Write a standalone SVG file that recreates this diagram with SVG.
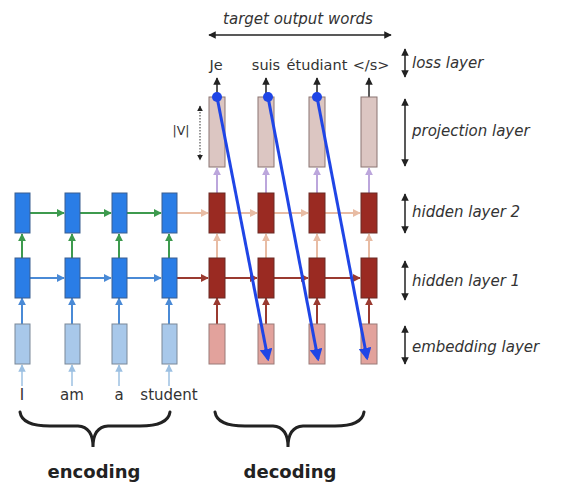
<svg xmlns="http://www.w3.org/2000/svg" width="566" height="492" viewBox="0 0 566 492">
<defs>
<style>
.t{font-family:"DejaVu Sans",sans-serif;fill:#333}
.it{font-family:"DejaVu Sans",sans-serif;font-style:italic;fill:#333;font-size:15px}
.b{font-family:"DejaVu Sans",sans-serif;font-weight:bold;fill:#222;font-size:18px}
.eh{fill:#2a7de6;stroke:#3a5f90;stroke-width:1}
.ee{fill:#a8c8ea;stroke:#7a8898;stroke-width:1}
.dh{fill:#9a2a22;stroke:#6a2a24;stroke-width:1}
.de{fill:#e2a29c;stroke:#9a7a78;stroke-width:1}
.pr{fill:#dcc6c2;stroke:#8a7472;stroke-width:1}
.green{stroke:#3d9a4e;stroke-width:2;fill:none;marker-end:url(#mg)}
.blue{stroke:#4a8ad6;stroke-width:2;fill:none;marker-end:url(#mb)}
.lblue{stroke:#9cc0e2;stroke-width:1.5;fill:none;marker-end:url(#mlb)}
.peach{stroke:#e8bca4;stroke-width:2;fill:none;marker-end:url(#mp)}
.dred{stroke:#9a3a30;stroke-width:2;fill:none;marker-end:url(#mr)}
.lav{stroke:#bca6dc;stroke-width:2;fill:none;marker-end:url(#ml)}
.blk{stroke:#222;stroke-width:1.5;fill:none;marker-end:url(#mk)}
.dbl{stroke:#222;stroke-width:1.5;fill:none;marker-start:url(#mks);marker-end:url(#mk)}
.att{stroke:#1f45e6;stroke-width:3;fill:none;marker-end:url(#mat)}
.brace{stroke:#222;stroke-width:3;fill:none;stroke-linecap:round}
</style>
<marker id="mg" viewBox="0 0 10 10" refX="9" refY="5" markerWidth="4" markerHeight="4" orient="auto"><path d="M0,0L10,5L0,10z" fill="#3d9a4e"/></marker>
<marker id="mb" viewBox="0 0 10 10" refX="9" refY="5" markerWidth="4" markerHeight="4" orient="auto"><path d="M0,0L10,5L0,10z" fill="#4a8ad6"/></marker>
<marker id="mlb" viewBox="0 0 10 10" refX="9" refY="5" markerWidth="5" markerHeight="5" orient="auto"><path d="M0,0L10,5L0,10z" fill="#9cc0e2"/></marker>
<marker id="mp" viewBox="0 0 10 10" refX="9" refY="5" markerWidth="4" markerHeight="4" orient="auto"><path d="M0,0L10,5L0,10z" fill="#e8bca4"/></marker>
<marker id="mr" viewBox="0 0 10 10" refX="9" refY="5" markerWidth="4" markerHeight="4" orient="auto"><path d="M0,0L10,5L0,10z" fill="#9a3a30"/></marker>
<marker id="ml" viewBox="0 0 10 10" refX="9" refY="5" markerWidth="4" markerHeight="4" orient="auto"><path d="M0,0L10,5L0,10z" fill="#bca6dc"/></marker>
<marker id="mk" viewBox="0 0 10 10" refX="9" refY="5" markerWidth="5" markerHeight="5" orient="auto"><path d="M0,0L10,5L0,10z" fill="#222"/></marker>
<marker id="mks" viewBox="0 0 10 10" refX="1" refY="5" markerWidth="5" markerHeight="5" orient="auto"><path d="M10,0L0,5L10,10z" fill="#222"/></marker>
<marker id="mat" viewBox="0 0 10 10" refX="8" refY="5" markerWidth="4.2" markerHeight="4.2" orient="auto"><path d="M0,0L10,5L0,10z" fill="#1f45e6"/></marker>
</defs>
<rect width="566" height="492" fill="#fff"/>

<g id="connectors">
<line class="lblue" x1="22" y1="386" x2="22" y2="365"/>
<line class="lblue" x1="72" y1="386" x2="72" y2="365"/>
<line class="lblue" x1="119" y1="386" x2="119" y2="365"/>
<line class="lblue" x1="169" y1="386" x2="169" y2="365"/>
<line class="blue" x1="22" y1="324" x2="22" y2="298"/>
<line class="blue" x1="72" y1="324" x2="72" y2="298"/>
<line class="blue" x1="119" y1="324" x2="119" y2="298"/>
<line class="blue" x1="169" y1="324" x2="169" y2="298"/>
<line class="green" x1="22" y1="258" x2="22" y2="234"/>
<line class="green" x1="72" y1="258" x2="72" y2="234"/>
<line class="green" x1="119" y1="258" x2="119" y2="234"/>
<line class="green" x1="169" y1="258" x2="169" y2="234"/>
<line class="green" x1="30" y1="213" x2="64" y2="213"/>
<line class="green" x1="80" y1="213" x2="111" y2="213"/>
<line class="green" x1="127" y1="213" x2="161" y2="213"/>
<line class="blue" x1="30" y1="278" x2="64" y2="278"/>
<line class="blue" x1="80" y1="278" x2="111" y2="278"/>
<line class="blue" x1="127" y1="278" x2="161" y2="278"/>
<line class="peach" x1="177" y1="213" x2="208" y2="213"/>
<line class="peach" x1="225" y1="213" x2="257" y2="213"/>
<line class="peach" x1="274" y1="213" x2="308" y2="213"/>
<line class="peach" x1="325" y1="213" x2="360" y2="213"/>
<line class="dred" x1="177" y1="278" x2="208" y2="278"/>
<line class="dred" x1="225" y1="278" x2="257" y2="278"/>
<line class="dred" x1="274" y1="278" x2="308" y2="278"/>
<line class="dred" x1="325" y1="278" x2="360" y2="278"/>
<line class="dred" x1="217" y1="324" x2="217" y2="298"/>
<line class="dred" x1="266" y1="324" x2="266" y2="298"/>
<line class="dred" x1="317" y1="324" x2="317" y2="298"/>
<line class="dred" x1="369" y1="324" x2="369" y2="298"/>
<line class="peach" x1="217" y1="258" x2="217" y2="234"/>
<line class="peach" x1="266" y1="258" x2="266" y2="234"/>
<line class="peach" x1="317" y1="258" x2="317" y2="234"/>
<line class="peach" x1="369" y1="258" x2="369" y2="234"/>
<line class="lav" x1="217" y1="193" x2="217" y2="168"/>
<line class="lav" x1="266" y1="193" x2="266" y2="168"/>
<line class="lav" x1="317" y1="193" x2="317" y2="168"/>
<line class="lav" x1="369" y1="193" x2="369" y2="168"/>
<line class="blk" x1="217" y1="97" x2="217" y2="78"/>
<line class="blk" x1="266" y1="97" x2="266" y2="78"/>
<line class="blk" x1="317" y1="97" x2="317" y2="78"/>
<line class="blk" x1="369" y1="97" x2="369" y2="78"/>
</g>

<g id="encoder">
<g id="enc-emb">
<rect class="ee" x="15" y="324" width="15" height="40"/>
<rect class="ee" x="65" y="324" width="15" height="40"/>
<rect class="ee" x="112" y="324" width="15" height="40"/>
<rect class="ee" x="162" y="324" width="15" height="40"/>
</g>
<g id="enc-h1">
<rect class="eh" x="15" y="258" width="15" height="40"/>
<rect class="eh" x="65" y="258" width="15" height="40"/>
<rect class="eh" x="112" y="258" width="15" height="40"/>
<rect class="eh" x="162" y="258" width="15" height="40"/>
</g>
<g id="enc-h2">
<rect class="eh" x="15" y="193" width="15" height="40"/>
<rect class="eh" x="65" y="193" width="15" height="40"/>
<rect class="eh" x="112" y="193" width="15" height="40"/>
<rect class="eh" x="162" y="193" width="15" height="40"/>
</g>
</g>

<g id="decoder">
<g id="dec-emb">
<rect class="de" x="209" y="324" width="16" height="40"/>
<rect class="de" x="258" y="324" width="16" height="40"/>
<rect class="de" x="309" y="324" width="16" height="40"/>
<rect class="de" x="361" y="324" width="16" height="40"/>
</g>
<g id="dec-h1">
<rect class="dh" x="209" y="258" width="16" height="40"/>
<rect class="dh" x="258" y="258" width="16" height="40"/>
<rect class="dh" x="309" y="258" width="16" height="40"/>
<rect class="dh" x="361" y="258" width="16" height="40"/>
</g>
<g id="dec-h2">
<rect class="dh" x="209" y="193" width="16" height="40"/>
<rect class="dh" x="258" y="193" width="16" height="40"/>
<rect class="dh" x="309" y="193" width="16" height="40"/>
<rect class="dh" x="361" y="193" width="16" height="40"/>
</g>
<g id="dec-proj">
<rect class="pr" x="209" y="97" width="16" height="70"/>
<rect class="pr" x="258" y="97" width="16" height="70"/>
<rect class="pr" x="309" y="97" width="16" height="70"/>
<rect class="pr" x="361" y="97" width="16" height="70"/>
</g>
</g>

<g id="attention">
<line class="att" x1="217" y1="97" x2="268" y2="359"/>
<line class="att" x1="268" y1="97" x2="318" y2="359"/>
<line class="att" x1="317" y1="97" x2="367" y2="358"/>
<circle cx="217" cy="97" r="5" fill="#1f45e6"/>
<circle cx="268" cy="97" r="5" fill="#1f45e6"/>
<circle cx="317" cy="97" r="5" fill="#1f45e6"/>
</g>

<g id="vocab">
<line x1="200" y1="106" x2="200" y2="160" stroke="#555" stroke-width="1.2" stroke-dasharray="1.5,1.5" marker-start="url(#mks)" marker-end="url(#mk)"/>
<text class="t" x="181" y="135" font-size="12.5" text-anchor="middle" fill="#555">|V|</text>
</g>

<g id="target-label">
<line class="dbl" x1="209" y1="35" x2="391" y2="35"/>
<text class="it" x="298" y="24" text-anchor="middle" font-size="15.5">target output words</text>
</g>

<g id="target-words" class="t" font-size="14.5" text-anchor="middle">
<text x="216" y="70">Je</text>
<text x="266" y="70">suis</text>
<text x="317" y="70">étudiant</text>
<text x="371" y="70">&lt;/s&gt;</text>
</g>

<g id="source-words" class="t" font-size="15" text-anchor="middle">
<text x="22" y="400">I</text>
<text x="72" y="400">am</text>
<text x="119" y="400">a</text>
<text x="169" y="400">student</text>
</g>

<g id="layer-labels">
<line class="dbl" x1="405" y1="49" x2="405" y2="77"/>
<text class="it" x="412" y="68">loss layer</text>
<line class="dbl" x1="405" y1="99" x2="405" y2="166"/>
<text class="it" x="412" y="136">projection layer</text>
<line class="dbl" x1="405" y1="194" x2="405" y2="233"/>
<text class="it" x="412" y="217">hidden layer 2</text>
<line class="dbl" x1="405" y1="261" x2="405" y2="300"/>
<text class="it" x="412" y="286">hidden layer 1</text>
<line class="dbl" x1="405" y1="326" x2="405" y2="364"/>
<text class="it" x="412" y="352">embedding layer</text>
</g>

<g id="encoding">
<path class="brace" d="M20,412 Q22,426 50,426 L78,426 Q93,427 93,447 Q93,427 108,426 L140,426 Q168,426 170,412"/>
<text class="b" x="94" y="478" text-anchor="middle">encoding</text>
</g>
<g id="decoding">
<path class="brace" d="M215,412 Q217,426 245,426 L273,426 Q288,427 288,447 Q288,427 303,426 L335,426 Q362,426 364,412"/>
<text class="b" x="290" y="478" text-anchor="middle">decoding</text>
</g>
</svg>
